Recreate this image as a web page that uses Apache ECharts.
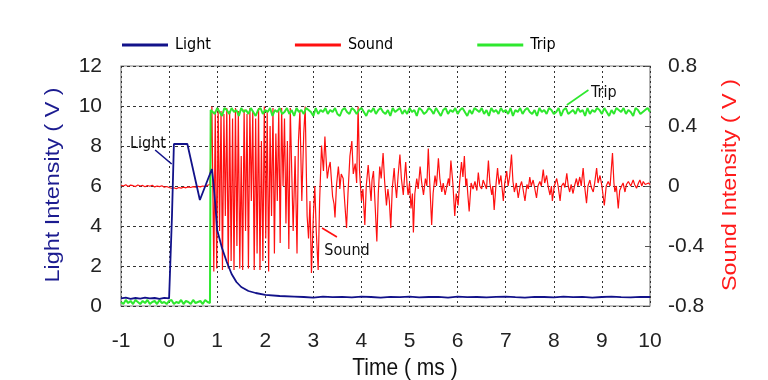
<!DOCTYPE html>
<html><head><meta charset="utf-8">
<script src="https://cdn.jsdelivr.net/npm/echarts@6/dist/echarts.min.js"></script>
<style>html,body{margin:0;padding:0;background:#fff}#c{width:768px;height:380px}</style>
</head><body><div id="c"></div>
<script>
// ---------- DATA ----------
const seriesNames = ['Light', 'Sound', 'Trip'];
const xAxisRange = [-1, 10];          // Time (ms)
const leftAxisRange = [0, 12];        // Light intensity (V)
const rightAxisRange = [-0.8, 0.8];   // Sound intensity (V)

// Light: pulse read as [ms, V]
const lightPulse = [
  [-1.0,0.38],[-0.9,0.42],[-0.8,0.36],[-0.7,0.40],[-0.6,0.37],[-0.5,0.42],[-0.4,0.38],[-0.3,0.40],
  [-0.2,0.36],[-0.1,0.41],[0.0,0.38],[0.03,0.42],[0.06,4.5],[0.10,8.1],[0.38,8.1],[0.64,5.3],
  [0.89,6.85],[0.92,6.2],[0.96,5.1],[1.0,3.8],[1.1,2.9],[1.2,2.2],[1.3,1.6],[1.4,1.2],[1.5,0.95],
  [1.65,0.75],[1.8,0.65],[2.0,0.56],[2.3,0.5],[2.6,0.47]
];
// Light tail after the pulse, sampled every 0.2 ms from 2.8 ms
const lightTailStart = 2.8, lightTailStep = 0.2;
const lightTail = [0.45,0.42,0.47,0.44,0.46,0.43,0.47,0.45,0.42,0.46,
  0.44,0.47,0.43,0.45,0.46,0.42,0.47,0.44,0.45,0.43,
  0.46,0.47,0.44,0.42,0.46,0.45,0.43,0.47,0.44,0.46,
  0.42,0.45,0.47,0.44,0.43,0.46,0.45];

// Sound: before the trip, sampled every 0.05 ms from -1 ms (V)
const soundPreStart = -1.0, soundPreStep = 0.05;
const soundPre = [0.005,0.0,0.008,-0.003,0.006,0.002,-0.004,0.007,0.0,0.004,
  -0.005,0.003,-0.002,0.005,-0.006,0.0,-0.004,0.002,-0.008,-0.003,
  -0.01,-0.015,-0.012,-0.018,-0.01,-0.014,-0.008,-0.012,-0.006,-0.01,
  -0.004,-0.008,-0.002,-0.006,0.0,-0.004,0.005,0.01];
// Sound after the trip: turning points read as [ms, V]
const soundPost = [
  [0.87,0.0],[0.89,0.53],[0.93,-0.57],[0.96,0.50],[0.99,-0.55],[1.02,0.52],[1.05,-0.30],[1.08,0.50],
  [1.11,-0.56],[1.14,0.48],[1.17,-0.20],[1.20,0.52],[1.23,-0.55],[1.26,0.50],[1.29,-0.50],[1.32,0.45],
  [1.35,-0.56],[1.38,0.52],[1.41,-0.40],[1.44,0.50],[1.47,-0.55],[1.50,0.20],[1.53,-0.56],[1.56,0.51],
  [1.59,-0.30],[1.62,0.48],[1.65,-0.55],[1.68,0.52],[1.71,-0.10],[1.74,0.50],[1.77,-0.56],[1.80,0.45],
  [1.83,-0.45],[1.86,0.52],[1.89,-0.56],[1.92,0.30],[1.95,-0.50],[1.98,0.53],[2.01,-0.35],[2.04,0.50],
  [2.07,-0.57],[2.10,0.40],[2.13,-0.20],[2.16,0.52],[2.19,-0.45],[2.22,0.35],[2.25,-0.10],[2.28,0.50],
  [2.31,-0.38],[2.34,0.52],[2.37,0.0],[2.40,0.45],[2.43,-0.25],[2.46,0.30],[2.49,-0.42],[2.52,0.52],
  [2.55,0.10],[2.58,-0.30],[2.62,0.20],[2.66,-0.45],[2.69,0.30],[2.72,0.50],[2.76,-0.10],[2.80,0.35],
  [2.83,0.53],[2.87,-0.20],[2.90,-0.35],[2.93,-0.10],[2.96,-0.58],[3.00,-0.2],[3.03,0.0],[3.06,-0.30],
  [3.10,-0.56],[3.13,-0.10],[3.17,0.27],[3.19,0.18],[3.21,0.10],[3.24,0.33],[3.27,0.15],[3.29,0.05],
  [3.32,0.12],[3.35,0.16],[3.38,0.02],[3.40,-0.07],[3.43,-0.12],[3.45,-0.21],[3.48,0.0],[3.52,0.13],
  [3.54,0.05],[3.55,-0.02],[3.58,0.08],[3.62,0.05],[3.65,-0.10],[3.69,-0.28],[3.72,-0.05],[3.76,0.20],
  [3.80,0.30],[3.83,0.08],[3.87,0.15],[3.90,0.02],[3.93,0.53],[3.96,0.10],[4.00,-0.10],[4.03,-0.02],
  [4.07,-0.26],[4.10,0.0],[4.14,0.14],[4.17,0.02],[4.20,-0.10],[4.22,0.04],[4.25,0.10],[4.28,-0.10],
  [4.32,-0.37],[4.35,-0.05],[4.38,0.13],[4.41,0.05],[4.45,0.22],[4.48,0.04],[4.52,-0.13],[4.55,-0.02],
  [4.58,-0.10],[4.61,-0.28],[4.64,-0.02],[4.68,0.12],[4.70,0.02],[4.73,-0.08],[4.76,0.06],[4.80,0.21],
  [4.83,0.05],[4.87,-0.06],[4.90,0.08],[4.92,0.16],[4.95,0.0],[4.97,-0.06],[5.00,0.02],[5.03,-0.15],
  [5.06,-0.05],[5.08,-0.31],[5.11,-0.05],[5.15,0.05],[5.18,-0.02],[5.22,0.13],[5.25,0.03],[5.29,-0.06],
  [5.33,0.05],[5.36,0.0],[5.39,0.25],[5.42,0.02],[5.46,-0.26],[5.49,-0.05],[5.53,0.07],[5.56,0.0],
  [5.60,0.185],[5.63,0.05],[5.67,-0.04],[5.70,0.02],[5.74,-0.06],[5.77,-0.01],[5.81,0.05],[5.83,0.0],
  [5.86,0.17],[5.90,0.02],[5.94,-0.20],[5.97,-0.05],[6.01,-0.13],[6.04,0.02],[6.08,0.16],[6.11,0.06],
  [6.14,0.20],[6.17,0.0],[6.19,0.05],[6.21,-0.05],[6.24,-0.17],[6.28,0.02],[6.32,-0.02],[6.36,0.03],
  [6.40,-0.03],[6.43,0.09],[6.46,0.0],[6.50,-0.02],[6.53,0.04],[6.57,0.05],[6.60,-0.02],[6.64,0.17],
  [6.67,0.02],[6.71,-0.06],[6.73,0.0],[6.76,-0.16],[6.80,0.02],[6.83,0.12],[6.86,0.01],[6.90,0.07],
  [6.92,0.0],[6.95,-0.10],[6.98,0.02],[7.02,0.10],[7.05,0.0],[7.08,0.06],[7.12,0.21],[7.15,0.03],
  [7.18,-0.04],[7.22,0.02],[7.26,-0.08],[7.30,0.0],[7.33,0.03],[7.36,-0.02],[7.40,-0.10],[7.44,0.01],
  [7.47,-0.02],[7.50,0.06],[7.53,0.0],[7.57,0.04],[7.60,-0.01],[7.64,-0.08],[7.67,0.0],[7.71,0.03],
  [7.74,0.0],[7.78,0.11],[7.81,0.02],[7.85,0.07],[7.88,0.0],[7.92,-0.06],[7.95,0.0],[7.97,-0.10],
  [8.01,0.0],[8.06,0.05],[8.09,0.0],[8.13,-0.10],[8.16,0.0],[8.20,0.02],[8.23,-0.01],[8.27,0.085],
  [8.30,0.0],[8.33,-0.04],[8.36,0.01],[8.40,-0.05],[8.43,0.0],[8.47,0.05],[8.50,0.0],[8.54,0.06],
  [8.57,0.0],[8.61,0.12],[8.64,0.0],[8.68,-0.115],[8.71,0.0],[8.75,0.04],[8.78,-0.01],[8.82,-0.04],
  [8.85,0.02],[8.89,0.12],[8.92,0.02],[8.96,0.07],[9.00,0.0],[9.05,-0.13],[9.09,0.0],[9.13,0.03],
  [9.17,0.0],[9.22,0.22],[9.25,0.02],[9.27,-0.04],[9.30,0.0],[9.34,-0.15],[9.37,-0.03],[9.41,0.0],
  [9.44,0.02],[9.48,-0.04],[9.51,0.01],[9.55,0.03],[9.60,0.0],[9.65,0.04],[9.68,0.01],[9.72,-0.015],
  [9.76,0.02],[9.79,0.04],[9.83,0.0],[9.86,0.03],[9.90,0.01],[9.93,0.0],[9.97,0.02],[10.0,0.01]
];

// Trip: low level sampled every 0.05 ms from -1 ms, step at 0.865 ms, high level every 0.05 ms from 0.9 ms
const tripLowStart = -1.0, tripStep = 0.05, tripEdge = 0.865, tripHighStart = 0.9;
const tripLow = [0.2,0.1,0.3,0.15,0.25,0.1,0.3,0.2,0.1,0.25,
  0.15,0.3,0.1,0.2,0.25,0.1,0.3,0.15,0.2,0.1,
  0.25,0.3,0.1,0.2,0.15,0.3,0.1,0.25,0.2,0.1,
  0.3,0.15,0.2,0.25,0.1,0.3,0.2,0.15];
const tripHigh = [9.8,9.6,9.9,9.7,9.5,9.9,9.8,9.6,9.9,9.7,
  9.8,9.5,9.9,9.7,9.8,9.6,9.9,9.7,9.5,9.8,
  9.9,9.6,9.8,9.7,9.9,9.5,9.8,9.7,9.9,9.6,
  9.7,9.9,9.6,9.8,9.5,9.9,9.7,9.8,9.6,9.9,
  9.8,9.7,9.5,9.9,9.6,9.8,9.7,9.9,9.6,9.8,
  9.7,9.9,9.6,9.5,9.8,9.9,9.7,9.6,9.9,9.8,
  9.6,9.8,9.9,9.7,9.5,9.8,9.7,9.9,9.6,9.8,
  9.9,9.7,9.6,9.8,9.5,9.9,9.7,9.8,9.9,9.6,
  9.8,9.6,9.9,9.7,9.8,9.5,9.9,9.8,9.6,9.7,
  9.9,9.8,9.6,9.9,9.7,9.5,9.8,9.9,9.6,9.8,
  9.7,9.9,9.6,9.8,9.9,9.7,9.5,9.8,9.6,9.9,
  9.8,9.7,9.9,9.6,9.8,9.5,9.9,9.7,9.8,9.6,
  9.9,9.7,9.8,9.6,9.9,9.5,9.8,9.7,9.9,9.6,
  9.8,9.9,9.7,9.6,9.8,9.5,9.9,9.7,9.8,9.6,
  9.9,9.8,9.6,9.7,9.9,9.5,9.8,9.9,9.6,9.7,
  9.8,9.6,9.9,9.7,9.8,9.5,9.9,9.6,9.8,9.7,
  9.9,9.8,9.6,9.9,9.7,9.5,9.8,9.6,9.9,9.8,
  9.7,9.9,9.6,9.8,9.7,9.5,9.9,9.8,9.6,9.7,
  9.8,9.9,9.7];

// Callout positions (data coordinates) -- placement only
const callouts = {
  Light: { from: [-0.29, 7.8], to: [0.054, 7.1], text: [-0.44, 8.1] },
  Sound: { from: [3.18, -0.28], to: [3.49, -0.34], text: [3.70, -0.43] },
  Trip:  { from: [8.27, 10.05], to: [8.72, 10.8], text: [9.04, 10.65] }
};

// ---------- BUILD ----------
const sampled = (start, step, arr) => arr.map((v, i) => [+(start + i * step).toFixed(4), v]);
const lightData = lightPulse.concat(sampled(lightTailStart, lightTailStep, lightTail));
const soundData = sampled(soundPreStart, soundPreStep, soundPre).concat(soundPost);
const tripData = sampled(tripLowStart, tripStep, tripLow)
  .concat([[tripEdge, tripLow[tripLow.length - 1]], [tripEdge, tripHigh[0]]])
  .concat(sampled(tripHighStart, tripStep, tripHigh));

const colors = { Light: '#12128a', Sound: '#ff1010', Trip: '#2ee82e' };
const labelFont = "'DejaVu Sans Condensed','DejaVu Sans',sans-serif";
const axisFont = "'Liberation Sans',Arial,sans-serif";

function callout(name) {
  const c = callouts[name];
  return {
    markLine: {
      silent: true, symbol: ['none', 'none'], animation: false,
      lineStyle: { color: colors[name], width: 1.6, type: 'solid' },
      label: { show: false },
      data: [[{ coord: c.from }, { coord: c.to }]]
    },
    markPoint: {
      silent: true, animation: false, symbol: 'circle', symbolSize: 2,
      itemStyle: { color: 'rgba(0,0,0,0)' },
      label: { show: true, position: 'inside', formatter: name, color: '#111',
        fontSize: 16, fontFamily: labelFont },
      data: [{ coord: c.text, name: name }]
    }
  };
}

const chart = echarts.init(document.getElementById('c'), null, { renderer: 'canvas' });
chart.setOption({
  animation: false,
  backgroundColor: '#fff',
  grid: { left: 121, right: 118, top: 66, bottom: 74, show: true, borderColor: '#808080', borderWidth: 1.2, backgroundColor: 'transparent' },
  legend: {
    data: seriesNames, left: 117, top: 32, itemWidth: 46, itemHeight: 3, itemGap: 84, icon: 'rect',
    textStyle: { fontFamily: labelFont, fontSize: 16, color: '#000', padding: [0, 0, 0, 2] }
  },
  xAxis: {
    type: 'value', min: xAxisRange[0], max: xAxisRange[1], interval: 1,
    axisLine: { show: false }, axisTick: { show: false },
    axisLabel: { fontSize: 21, color: '#222', fontFamily: axisFont, margin: 25 },
    splitLine: { show: true, lineStyle: { color: '#333', type: [2, 3], width: 1 } }
  },
  yAxis: [{
    type: 'value', min: leftAxisRange[0], max: leftAxisRange[1], interval: 2,
    axisLine: { show: false }, axisTick: { show: false },
    axisLabel: { fontSize: 21, color: '#222', fontFamily: axisFont, margin: 19 },
    splitLine: { show: true, lineStyle: { color: '#333', type: [3, 3], width: 1 } }
  }, {
    type: 'value', min: rightAxisRange[0], max: rightAxisRange[1], interval: 0.4,
    position: 'right',
    axisLine: { show: false },
    axisTick: { show: true, inside: true, length: 5, lineStyle: { color: '#555' } },
    axisLabel: { fontSize: 21, color: '#222', fontFamily: axisFont, margin: 18 },
    splitLine: { show: false }
  }],
  graphic: [
    { type: 'text', x: 405, y: 368, scaleY: 1.18,
      style: { text: 'Time ( ms )', font: "21px 'Liberation Sans', Arial, sans-serif", fill: '#111', textAlign: 'center', textVerticalAlign: 'middle' } },
    { type: 'text', x: 53, y: 185, rotation: Math.PI / 2, scaleX: 1.17,
      style: { text: 'Light Intensity ( V )', font: "20px 'Liberation Sans', Arial, sans-serif", fill: '#1c1c90', textAlign: 'center', textVerticalAlign: 'middle' } },
    { type: 'text', x: 730, y: 185, rotation: Math.PI / 2, scaleX: 1.17,
      style: { text: 'Sound Intensity ( V )', font: "20px 'Liberation Sans', Arial, sans-serif", fill: '#ff1a1a', textAlign: 'center', textVerticalAlign: 'middle' } }
  ],
  series: [
    Object.assign({ name: 'Sound', type: 'line', yAxisIndex: 1, data: soundData, showSymbol: false, symbol: 'none',
      lineStyle: { color: colors.Sound, width: 1.2 }, itemStyle: { color: colors.Sound } }, callout('Sound')),
    Object.assign({ name: 'Trip', type: 'line', yAxisIndex: 0, data: tripData, showSymbol: false, symbol: 'none',
      lineStyle: { color: colors.Trip, width: 2 }, itemStyle: { color: colors.Trip } }, callout('Trip')),
    Object.assign({ name: 'Light', type: 'line', yAxisIndex: 0, data: lightData, showSymbol: false, symbol: 'none',
      lineStyle: { color: colors.Light, width: 1.8 }, itemStyle: { color: colors.Light } }, callout('Light'))
  ]
});
</script>
</body></html>
